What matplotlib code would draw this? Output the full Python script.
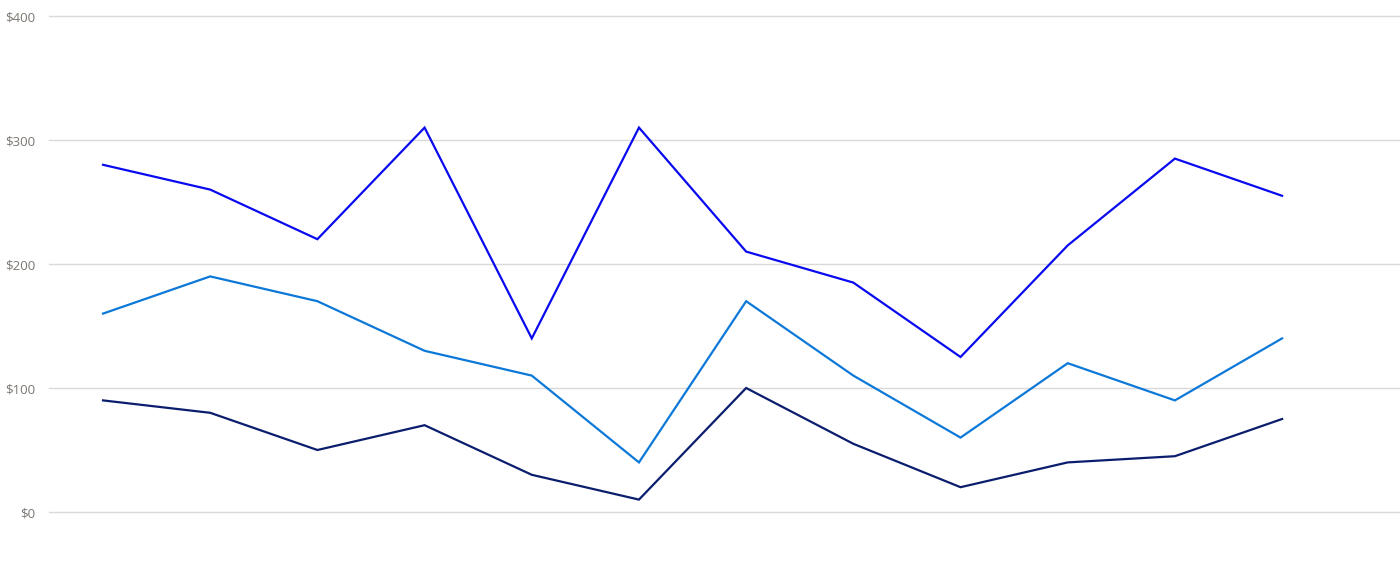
import matplotlib
matplotlib.use("Agg")
import matplotlib.pyplot as plt
from matplotlib.ticker import FuncFormatter

categories = list(range(12))
series_top = [280, 260, 220, 310, 140, 310, 210, 185, 125, 215, 285, 255]
series_mid = [160, 190, 170, 130, 110, 40, 170, 110, 60, 120, 90, 140]
series_low = [90, 80, 50, 70, 30, 10, 100, 55, 20, 40, 45, 75]
yticks = [0, 100, 200, 300, 400]

plt.rcParams['font.family'] = ['Open Sans', 'DejaVu Sans']

fig = plt.figure(figsize=(14, 5.81), dpi=100)
ax = fig.add_axes([49/1400, (581-512)/581, 1 - 49/1400, (512-16)/581])

for t in yticks:
    ax.axhline(t, color='#D9D9D9', lw=1, zorder=0, clip_on=False)

ax.plot(categories, series_top, color='#0A0AF0', lw=1.6, solid_joinstyle='miter')
ax.plot(categories, series_mid, color='#0C78D8', lw=1.6, solid_joinstyle='miter')
ax.plot(categories, series_low, color='#0B1E6E', lw=1.6, solid_joinstyle='miter')

ax.set_ylim(0, 400)
ax.set_xlim(-0.504, 12.1)
ax.set_yticks(yticks)
ax.yaxis.set_major_formatter(FuncFormatter(lambda v, p: f"${int(v)}"))
ax.set_xticks([])
for s in ax.spines.values():
    s.set_visible(False)
ax.tick_params(axis='y', length=0, pad=10, labelsize=9.5, labelcolor='#7A7670')

fig.savefig('out.png', dpi=100)
